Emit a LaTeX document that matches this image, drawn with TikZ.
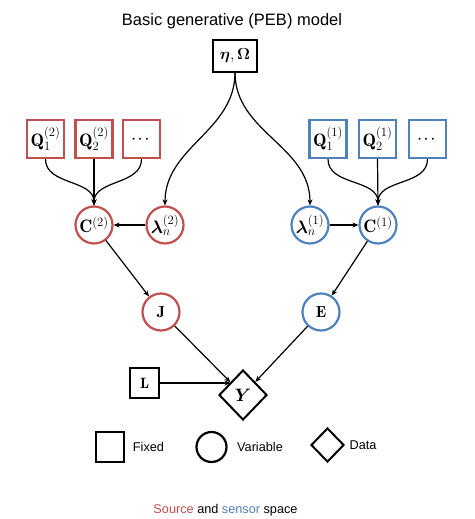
\RequirePackage{fix-cm}
\documentclass[tikz,border=0pt]{standalone}
\usepackage{amsmath,amssymb}
\usepackage{bm}
\usepackage{fontspec}
\newfontfamily\arialfont{Liberation Sans}
\usepackage{tikz}
\usetikzlibrary{shapes.geometric}
\usetikzlibrary{arrows.meta}
\definecolor{srcred}{RGB}{192,80,77}
\definecolor{senblue}{RGB}{79,129,189}

\begin{document}
\begin{tikzpicture}[x=1pt,y=-1pt,
  fixedbox/.style={draw,line width=2pt,minimum width=37pt,minimum height=38pt,inner sep=0pt},
  varnode/.style={draw,circle,line width=2.2pt,minimum size=37pt,inner sep=0pt},
  datanode/.style={draw,diamond,line width=2pt,minimum width=48pt,minimum height=50pt,inner sep=0pt},
  arr/.style={-{Stealth[length=6pt,width=5pt]},line width=1.2pt},
  bigmath/.style={font=\fontsize{18}{20}\selectfont},
  midmath/.style={font=\fontsize{16}{18}\selectfont},
  dotsmath/.style={font=\fontsize{13}{15}\selectfont},
  sans/.style={font=\arialfont\fontsize{12.7}{14}\selectfont}]
  \useasboundingbox (0,0) rectangle (474,519);
  \node[font=\arialfont\fontsize{16.5}{19}\selectfont] (title) at (232,21) {Basic generative (PEB) model};
  \node[fixedbox,minimum width=44pt,minimum height=31pt,midmath] (etaomega) at (235,56) {$\bm{\eta},\bm{\Omega}$};
  % source space
  \node[fixedbox,draw=srcred,line width=2.4pt,bigmath] (qsrc1) at (45.5,139) {$\mathbf{Q}_1^{(2)}$};
  \node[fixedbox,draw=srcred,line width=2.4pt,bigmath] (qsrc2) at (94,139) {$\mathbf{Q}_2^{(2)}$};
  \node[fixedbox,draw=srcred,line width=2.4pt,dotsmath] (qsrcd) at (141.5,139) {$\bm{\cdots}$};
  \node[varnode,draw=srcred,bigmath] (csrc) at (94,225) {$\mathbf{C}^{(2)}$};
  \node[varnode,draw=srcred,bigmath] (lamsrc) at (165,225) {$\bm{\lambda}_n^{(2)}$};
  \node[varnode,draw=srcred,midmath] (J) at (161,312) {$\mathbf{J}$};
  % sensor space
  \node[fixedbox,draw=senblue,line width=2.4pt,bigmath] (qsen1) at (328,139) {$\mathbf{Q}_1^{(1)}$};
  \node[fixedbox,draw=senblue,line width=2.4pt,bigmath] (qsen2) at (377.5,139) {$\mathbf{Q}_2^{(1)}$};
  \node[fixedbox,draw=senblue,line width=2.4pt,dotsmath] (qsend) at (427.5,139) {$\bm{\cdots}$};
  \node[varnode,draw=senblue,bigmath] (lamsen) at (310,225) {$\bm{\lambda}_n^{(1)}$};
  \node[varnode,draw=senblue,bigmath] (csen) at (378,225) {$\mathbf{C}^{(1)}$};
  \node[varnode,draw=senblue,midmath] (E) at (321,312) {$\mathbf{E}$};
  % data
  \node[fixedbox,minimum width=29pt,minimum height=30pt,font=\fontsize{15}{17}\selectfont] (L) at (144.5,383) {$\mathbf{L}$};
  \node[datanode,bigmath] (Y) at (243,395) {$\bm{Y}$};

  \draw[arr] (etaomega.south) to[out=-90,in=90] (lamsrc.north);
  \draw[arr] (etaomega.south) to[out=-90,in=90] (lamsen.north);
  \draw[arr] (qsrc1.south) to[out=-90,in=90] (csrc.north);
  \draw[arr] (qsrc2.south) -- (csrc.north);
  \draw[arr] (qsrcd.south) to[out=-90,in=90] (csrc.north);
  \draw[arr] (qsen1.south) to[out=-90,in=90] (csen.north);
  \draw[arr] (qsen2.south) -- (csen.north);
  \draw[arr] (qsend.south) to[out=-90,in=90] (csen.north);
  \draw[arr] (lamsrc) -- (csrc);
  \draw[arr] (lamsen) -- (csen);
  \draw[arr] (csrc) -- (J);
  \draw[arr] (csen) -- (E);
  \draw[arr] (J) -- (Y);
  \draw[arr] (E) -- (Y);
  \draw[arr] (L.east) -- (L -| Y.north west);

  % legend
  \node[fixedbox,minimum width=28pt,minimum height=30pt] (fixedkey) at (110,447) {};
  \node[sans] (fixedtxt) at (148.5,447) {Fixed};
  \node[varnode,minimum size=30pt] (varkey) at (211.5,447) {};
  \node[sans] (vartxt) at (260,447) {Variable};
  \node[datanode,minimum width=33pt,minimum height=34pt] (datakey) at (327.5,445) {};
  \node[sans] (datatxt) at (363,445) {Data};
  \node[sans] (space) at (225.5,510) {\textcolor{srcred}{Source} and \textcolor{senblue}{sensor} space};
\end{tikzpicture}
\end{document}
